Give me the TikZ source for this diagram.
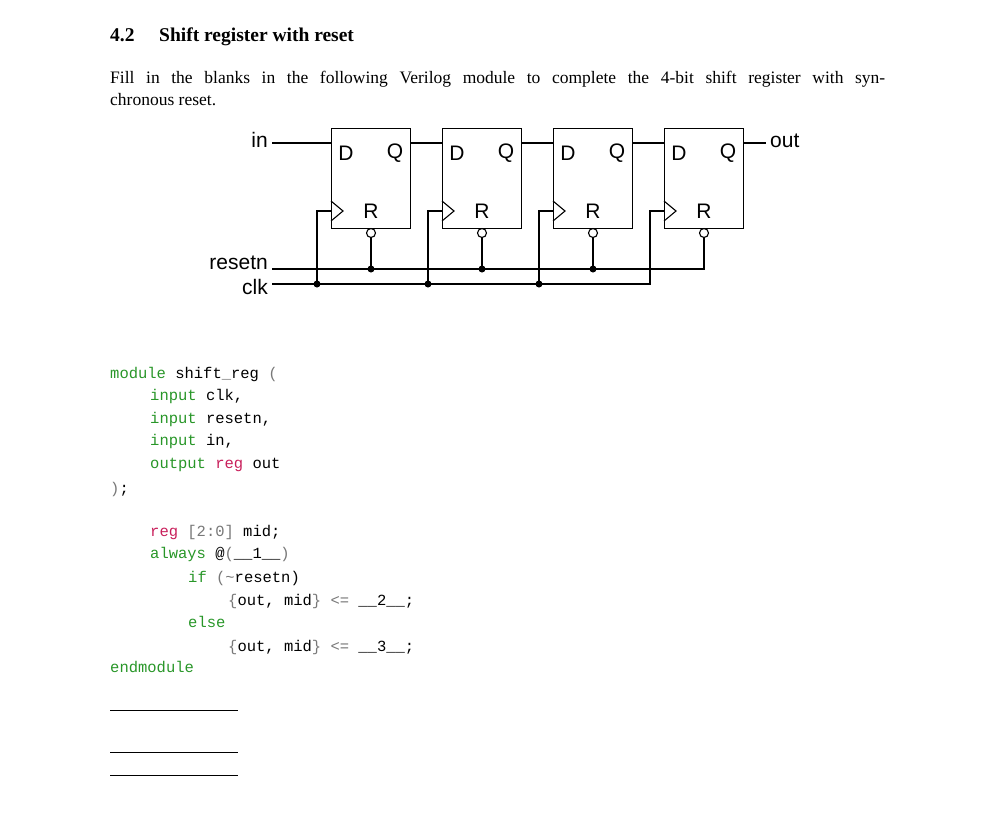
\documentclass[tikz,border=0pt]{standalone}
\usepackage{fontspec}
\setmainfont{Liberation Serif}
\newfontfamily\circfont{Liberation Sans}
\newfontfamily\codefont{Liberation Mono}
\definecolor{kw}{RGB}{40,150,40}
\definecolor{rg}{RGB}{200,30,90}
\definecolor{gy}{RGB}{120,120,120}
\begin{document}
\begin{tikzpicture}[x=1pt,y=-1pt,
  ff/.style={draw,line width=1.1pt,minimum width=79pt,minimum height=100pt,anchor=north west,inner sep=0pt},
  wire/.style={line width=1.1pt},
  lab/.style={font=\circfont\fontsize{21}{21}\selectfont,inner sep=0pt},
  sig/.style={font=\circfont\fontsize{21}{21}\selectfont,inner sep=0pt,anchor=base east},
  code/.style={font=\codefont\fontsize{15.5}{16}\selectfont,inner sep=0pt,anchor=base west},
  txt/.style={font=\fontsize{17.5}{22}\selectfont,inner sep=0pt,anchor=base west},
  dot/.style={circle,fill,inner sep=0pt,minimum size=7pt},
  bub/.style={circle,draw,line width=1.1pt,fill=white,inner sep=0pt,minimum size=9pt}]
\useasboundingbox (0,0) rectangle (983,812);
\node[txt,font=\bfseries\fontsize{19.5}{22}\selectfont] (h1) at (110,41) {4.2};
\node[txt,font=\bfseries\fontsize{19.5}{22}\selectfont] (h2) at (159,41) {Shift register with reset};
\node[txt,anchor=north west,text width=775pt,align=justify] (p) at (110,71) {Fill in the blanks in the following Verilog module to complete the 4-bit shift register with syn-\linebreak chronous reset.};
% flip-flops
\foreach \i/\x in {1/331,2/442,3/553,4/664}{
  \node[ff] (f\i) at (\x,128) {};
  \node[lab] (d\i) at (\x+15,153) {D};
  \node[lab] (q\i) at (\x+64,153) {Q};
  \node[lab] (r\i) at (\x+40,211) {R};
  \draw[wire] (\x,201) -- (\x+12,211) -- (\x,221);
  \node[bub] (b\i) at (\x+40,233) {};
  \coordinate (ck\i) at (\x,211);
}
\node[sig] (in) at (268,147) {in};
\node[sig] (rs) at (268,269) {resetn};
\node[sig] (ck) at (268,294) {clk};
\node[lab,anchor=base west] (out) at (770,147) {out};
\coordinate (inS) at (272,143);
\coordinate (rsS) at (272,269);
\coordinate (ckS) at (272,284);
\draw[wire] (inS) -- (331,143);
\draw[wire] (410,143) -- (442,143);
\draw[wire] (521,143) -- (553,143);
\draw[wire] (632,143) -- (664,143);
\draw[wire] (743,143) -- (766,143);
\draw[wire] (rsS) -- (704,269) -- (b4.south);
\draw[wire] (ckS) -- (650,284) -- (650,211) -- (ck4);
\foreach \i/\x in {1/331,2/442,3/553}{
  \draw[wire] (b\i.south) -- (\x+40,269);
  \node[dot] (rd\i) at (\x+40,269) {};
  \draw[wire] (ck\i) -- (\x-14,211) -- (\x-14,284);
  \node[dot] (cd\i) at (\x-14,284) {};
}
% code
\node[code] (c1) at (110,378) {\textcolor{kw}{module} shift\textcolor{gy}{\_}reg \textcolor{gy}{(}};
\node[code] (c2) at (150,400) {\textcolor{kw}{input} clk,};
\node[code] (c3) at (150,423) {\textcolor{kw}{input} resetn,};
\node[code] (c4) at (150,445) {\textcolor{kw}{input} in,};
\node[code] (c5) at (150,468) {\textcolor{kw}{output} \textcolor{rg}{reg} out};
\node[code] (c6) at (110,493) {\textcolor{gy}{)};};
\node[code] (c7) at (150,536) {\textcolor{rg}{reg} \textcolor{gy}{[2:0]} mid;};
\node[code] (c8) at (150,558) {\textcolor{kw}{always} @\textcolor{gy}{(}\_\_1\_\_\textcolor{gy}{)}};
\node[code] (c9) at (188,582) {\textcolor{kw}{if} \textcolor{gy}{(\textasciitilde}resetn)};
\node[code] (c10) at (228,605) {\textcolor{gy}{\{}out, mid\textcolor{gy}{\}} \textcolor{gy}{<=} \_\_2\_\_;};
\node[code] (c11) at (188,627) {\textcolor{kw}{else}};
\node[code] (c12) at (228,651) {\textcolor{gy}{\{}out, mid\textcolor{gy}{\}} \textcolor{gy}{<=} \_\_3\_\_;};
\node[code] (c13) at (110,672) {\textcolor{kw}{endmodule}};
\draw[line width=0.6pt] (110,710) -- (238,710);
\draw[line width=0.6pt] (110,752) -- (238,752);
\draw[line width=0.6pt] (110,775) -- (238,775);
\end{tikzpicture}
\end{document}
